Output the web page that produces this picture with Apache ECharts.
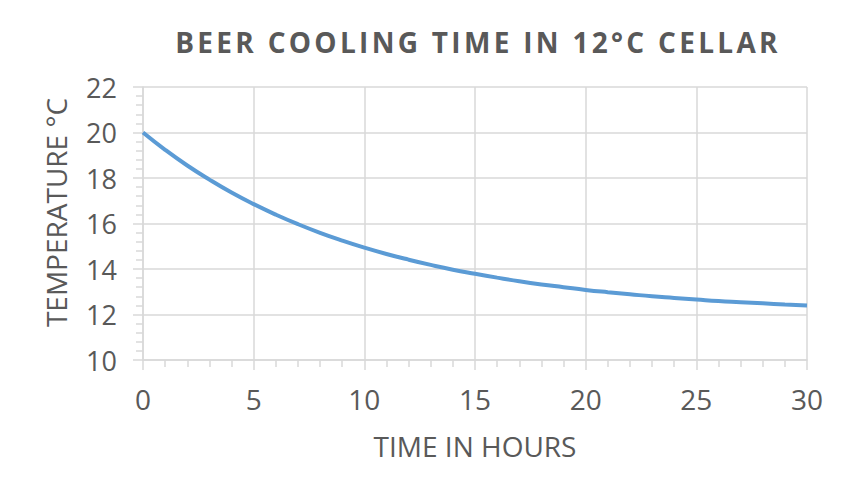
<!DOCTYPE html>
<html>
<head>
<meta charset="utf-8">
<script src="https://cdn.jsdelivr.net/npm/echarts@6/dist/echarts.min.js"></script>
<style>
html,body{margin:0;padding:0;background:#fff;}
#chart{width:854px;height:501px;}
</style>
</head>
<body>
<div id="chart"></div>
<script>
// Data
const titleText = 'BEER COOLING TIME IN 12°C CELLAR';
const xName = 'TIME IN HOURS';
const yName = 'TEMPERATURE °C';
const hours = [0,1,2,3,4,5,6,7,8,9,10,11,12,13,14,15,16,17,18,19,20,21,22,23,24,25,26,27,28,29,30];
const temps = [20.00,19.24,18.55,17.93,17.36,16.85,16.39,15.97,15.59,15.25,14.94,14.66,14.41,14.18,13.97,13.79,13.62,13.46,13.32,13.20,13.08,12.98,12.89,12.80,12.73,12.66,12.59,12.54,12.49,12.44,12.40];
const xTicks = {min: 0, max: 30, interval: 5};
const yTicks = {min: 10, max: 22, interval: 2};

const textColor = '#595959';
const gridColor = '#d9d9d9';
const fontFam = '"Open Sans", Lato, sans-serif';

const chart = echarts.init(document.getElementById('chart'), null, {renderer: 'svg'});
chart.setOption({
  animation: false,
  backgroundColor: '#fff',
  title: {
    text: titleText,
    left: 473, top: 23, textAlign: 'center',
    textStyle: {color: textColor, fontFamily: fontFam, fontWeight: 'bold', fontSize: 28}
  },
  grid: {left: 143, right: 47, top: 87, bottom: 141, containLabel: false},
  xAxis: {
    type: 'value', min: xTicks.min, max: xTicks.max, interval: xTicks.interval,
    name: xName, nameLocation: 'middle', nameGap: 72,
    nameTextStyle: {color: textColor, fontFamily: fontFam, fontSize: 28},
    axisLine: {show: true, lineStyle: {color: gridColor, width: 1.5}},
    axisTick: {show: true, length: 10, lineStyle: {color: gridColor, width: 1.5}},
    minorTick: {show: true, splitNumber: 5, length: 7, lineStyle: {color: gridColor, width: 1.5}},
    axisLabel: {color: textColor, fontFamily: fontFam, fontSize: 28, margin: 25},
    splitLine: {show: true, lineStyle: {color: gridColor, width: 1.5}}
  },
  yAxis: {
    type: 'value', min: yTicks.min, max: yTicks.max, interval: yTicks.interval,
    name: yName, nameLocation: 'middle', nameGap: 73, nameRotate: 90,
    nameTextStyle: {color: textColor, fontFamily: fontFam, fontSize: 28, padding: [0, 0, 0, 22]},
    axisLine: {show: true, lineStyle: {color: gridColor, width: 1.5}},
    axisTick: {show: true, length: 10, lineStyle: {color: gridColor, width: 1.5}},
    minorTick: {show: true, splitNumber: 5, length: 7, lineStyle: {color: gridColor, width: 1.5}},
    axisLabel: {color: textColor, fontFamily: fontFam, fontSize: 27, margin: 26},
    splitLine: {show: true, lineStyle: {color: gridColor, width: 1.5}}
  },
  series: [{
    type: 'line',
    data: hours.map((h, i) => [h, temps[i]]),
    smooth: true,
    showSymbol: false,
    lineStyle: {color: '#5b9bd5', width: 4},
    itemStyle: {color: '#5b9bd5'}
  }]
});

// Apply letter spacing to the title like the reference
function spaceText() {
  document.querySelectorAll('#chart svg text').forEach(t => {
    if (t.textContent === titleText) t.setAttribute('letter-spacing', '3.3');
  });
}
spaceText();
</script>
</body>
</html>
